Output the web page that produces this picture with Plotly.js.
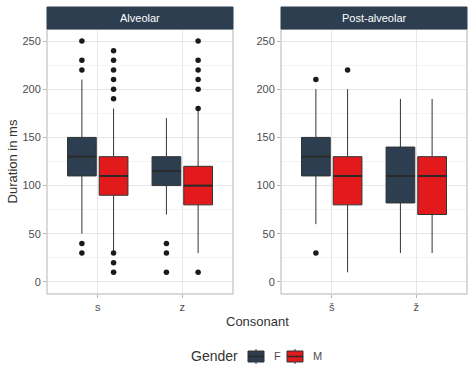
<!DOCTYPE html>
<html>
<head>
<meta charset="utf-8">
<script src="https://cdn.plot.ly/plotly-3.0.1.min.js"></script>
<style>html,body{margin:0;padding:0;background:#fff;}#chart{width:474px;height:379px;}</style>
</head>
<body>
<div id="chart"></div>
<script>
// ---- data ----
const consonants = ['s', 'z', 'š', 'ž'];
const places = ['Alveolar', 'Alveolar', 'Post-alveolar', 'Post-alveolar'];
const panels = ['Alveolar', 'Post-alveolar'];
const genders = ['F', 'M'];

const F_q1     = [110, 100, 110, 82];
const F_median = [130, 115, 130, 110];
const F_q3     = [150, 130, 150, 140];
const F_lower  = [50, 70, 60, 30];
const F_upper  = [210, 170, 200, 190];
const F_outliers = [[250, 230, 220, 40, 30], [40, 30, 10], [210, 30], []];

const M_q1     = [90, 80, 80, 70];
const M_median = [110, 100, 110, 110];
const M_q3     = [130, 120, 130, 130];
const M_lower  = [32, 30, 10, 30];
const M_upper  = [180, 178, 200, 190];
const M_outliers = [[240, 230, 220, 210, 200, 190, 30, 20, 10], [250, 230, 220, 210, 200, 180, 10], [220], []];

const yTicks = [0, 50, 100, 150, 200, 250];

// ---- styling ----
const colors = {F: '#2c3e50', M: '#e31a1c'};
const stats = {
  F: {q1: F_q1, median: F_median, q3: F_q3, lower: F_lower, upper: F_upper, out: F_outliers},
  M: {q1: M_q1, median: M_median, q3: M_q3, lower: M_lower, upper: M_upper, out: M_outliers}
};
const dodge = {F: -0.1875, M: 0.1875};
const boxW = 0.34;
const font = 'Liberation Sans, Arial, Helvetica, sans-serif';

const traces = [];
panels.forEach((panel, pi) => {
  const idx = consonants.map((c, i) => i).filter(i => places[i] === panel);
  const xa = pi === 0 ? 'x' : 'x2';
  const ya = pi === 0 ? 'y' : 'y2';
  genders.forEach(g => {
    const s = stats[g];
    traces.push({
      type: 'box',
      name: g,
      legendgroup: g,
      showlegend: false,
      xaxis: xa, yaxis: ya,
      x: idx.map((i, k) => k + 1 + dodge[g]),
      q1: idx.map(i => s.q1[i]),
      median: idx.map(i => s.median[i]),
      q3: idx.map(i => s.q3[i]),
      lowerfence: idx.map(i => s.lower[i]),
      upperfence: idx.map(i => s.upper[i]),
      width: boxW,
      whiskerwidth: 0,
      boxpoints: false,
      fillcolor: colors[g],
      line: {color: '#333333', width: 1},
      hoverinfo: 'skip'
    });
    // thicker median bar (ggplot style)
    const mx = [], my = [];
    idx.forEach((i, k) => {
      const c = k + 1 + dodge[g];
      mx.push(c - boxW / 2, c + boxW / 2, null);
      my.push(s.median[i], s.median[i], null);
    });
    traces.push({
      type: 'scatter', mode: 'lines', xaxis: xa, yaxis: ya,
      x: mx, y: my, line: {color: '#2a2a2a', width: 2},
      showlegend: false, hoverinfo: 'skip'
    });
    const ox = [], oy = [];
    idx.forEach((i, k) => {
      s.out[i].forEach(v => { ox.push(k + 1 + dodge[g]); oy.push(v); });
    });
    traces.push({
      type: 'scatter', mode: 'markers',
      xaxis: xa, yaxis: ya,
      x: ox, y: oy,
      marker: {color: '#1a1a1a', size: 5.5},
      showlegend: false,
      hoverinfo: 'skip'
    });
  });
});

const panelTop = 265 / 287;
function xAxis(domain, ticktext) {
  return {
    domain: domain, range: [0.4, 2.6],
    tickvals: [1, 2], ticktext: ticktext,
    showgrid: true, gridcolor: '#e6e6e6', gridwidth: 1,
    zeroline: false, showline: false,
    ticks: 'outside', ticklen: 3, tickcolor: '#b3b3b3',
    tickfont: {family: font, size: 11, color: '#4d4d4d'},
    fixedrange: true
  };
}
function yAxis(anchor) {
  return {
    domain: [0, panelTop], range: [-12.5, 262.5], anchor: anchor,
    tickvals: yTicks,
    showgrid: true, gridcolor: '#e6e6e6', gridwidth: 1,
    minor: {tickvals: [25, 75, 125, 175, 225], showgrid: true, gridcolor: '#f3f3f3', gridwidth: 1},
    zeroline: false, showline: false,
    ticks: 'outside', ticklen: 3, tickcolor: '#b3b3b3',
    tickfont: {family: font, size: 11, color: '#4d4d4d'},
    fixedrange: true
  };
}

// pixel -> paper helpers (plot area: x 47..467, y 7..294)
const px = v => (v - 47) / 420;
const py = v => (294 - v) / 287;

const layout = {
  width: 474, height: 379,
  margin: {l: 47, r: 7, t: 7, b: 85},
  paper_bgcolor: '#ffffff', plot_bgcolor: '#ffffff',
  font: {family: font, color: '#333333'},
  xaxis: xAxis([0, 186 / 420], consonants.filter((c, i) => places[i] === panels[0])),
  xaxis2: xAxis([234 / 420, 1], consonants.filter((c, i) => places[i] === panels[1])),
  yaxis: Object.assign(yAxis('x'), {title: {text: 'Duration in ms', font: {family: font, size: 13, color: '#333333'}, standoff: 1}}),
  yaxis2: yAxis('x2'),
  showlegend: false,
  shapes: [],
  annotations: [{
    text: 'Consonant', xref: 'paper', yref: 'paper', x: 0.5, y: py(312), yanchor: 'top', xanchor: 'center',
    showarrow: false, font: {family: font, size: 13, color: '#333333'}
  }, {
    text: 'Gender', xref: 'paper', yref: 'paper', x: px(240), y: py(356), xanchor: 'right', yanchor: 'middle',
    showarrow: false, font: {family: font, size: 14, color: '#333333'}
  }]
};

panels.forEach((panel, pi) => {
  const xr = (pi === 0 ? 'x' : 'x2') + ' domain';
  const yr = (pi === 0 ? 'y' : 'y2') + ' domain';
  layout.shapes.push({type: 'rect', xref: xr, yref: yr, x0: 0, x1: 1, y0: 0, y1: 1,
    line: {color: '#b3b3b3', width: 1}, fillcolor: 'rgba(0,0,0,0)', layer: 'above'});
  layout.shapes.push({type: 'rect', xref: xr, yref: 'paper', x0: 0, x1: 1, y0: panelTop, y1: 1,
    line: {color: '#2c3e50', width: 1}, fillcolor: '#2c3e50'});
  layout.annotations.push({text: panel, xref: xr, yref: 'paper', x: 0.5, y: (1 + panelTop) / 2,
    xanchor: 'center', yanchor: 'middle', showarrow: false,
    font: {family: font, size: 11, color: '#ffffff'}});
});

// legend keys (ggplot style box glyphs)
const keyLeft = {F: 248, M: 287};
genders.forEach(g => {
  const x0 = keyLeft[g], x1 = x0 + 16, cx = (x0 + x1) / 2;
  layout.shapes.push({type: 'line', xref: 'paper', yref: 'paper', x0: px(cx), x1: px(cx), y0: py(349), y1: py(364),
    line: {color: '#333333', width: 1}});
  layout.shapes.push({type: 'rect', xref: 'paper', yref: 'paper', x0: px(x0), x1: px(x1), y0: py(351), y1: py(362),
    fillcolor: colors[g], line: {color: '#333333', width: 1}});
  layout.shapes.push({type: 'line', xref: 'paper', yref: 'paper', x0: px(x0), x1: px(x1), y0: py(356.5), y1: py(356.5),
    line: {color: '#2a2a2a', width: 1.5}});
  layout.annotations.push({text: g, xref: 'paper', yref: 'paper', x: px(x1 + 8), y: py(356.5),
    xanchor: 'left', yanchor: 'middle', showarrow: false,
    font: {family: font, size: 11, color: '#4d4d4d'}});
});

Plotly.newPlot('chart', traces, layout, {displayModeBar: false, staticPlot: true});
</script>
</body>
</html>
